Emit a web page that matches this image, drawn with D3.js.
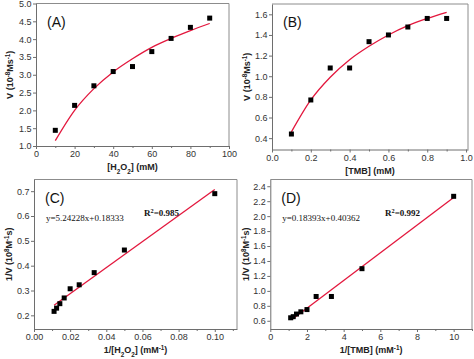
<!DOCTYPE html>
<html><head><meta charset="utf-8">
<script src="https://cdn.jsdelivr.net/npm/d3@7"></script>
<style>body{margin:0;background:#fff} svg{display:block}</style>
</head><body>
<svg id="c" width="474" height="359"></svg>
<script>
// ---- Panel A: V vs [H2O2]
const aS = [10,20,30,40,50,60,70,80,90];
const aV = [1.44,2.14,2.69,3.09,3.23,3.65,4.02,4.33,4.59];
const aFitV = [1.15,2.00,2.61,3.08,3.45,3.77,4.02,4.24,4.44];
const aXTicks = [0,20,40,60,80,100];
const aXMinor = [10,30,50,70,90];
const aYTicks = [1.0,1.5,2.0,2.5,3.0,3.5,4.0,4.5,5.0];
// ---- Panel B: V vs [TMB]
const bS = [0.1,0.2,0.3,0.4,0.5,0.6,0.7,0.8,0.9];
const bV = [0.44,0.77,1.08,1.08,1.335,1.40,1.477,1.56,1.56];
const bFitV = [0.46,0.77,0.99,1.16,1.29,1.40,1.49,1.56,1.62];
const bXTicks = [0.0,0.2,0.4,0.6,0.8,1.0];
const bXMinor = [0.1,0.3,0.5,0.7,0.9];
const bYTicks = [0.4,0.6,0.8,1.0,1.2,1.4,1.6];
// ---- Panel C: 1/V vs 1/[H2O2]
const cX = [0.1,0.05,0.0333,0.025,0.02,0.0167,0.0143,0.0125,0.0111];
const cY = [0.69,0.463,0.372,0.323,0.307,0.270,0.247,0.229,0.216];
const cFitX = [0.0111,0.1];
const cFitY = [0.241,0.707];
const cXTicks = [0,0.02,0.04,0.06,0.08,0.10];
const cXMinor = [0.01,0.03,0.05,0.07,0.09,0.11];
const cYTicks = [0.2,0.3,0.4,0.5,0.6,0.7];
// ---- Panel D: 1/V vs 1/[TMB]
const dX = [10,5,3.333,2.5,2,1.667,1.429,1.25,1.111];
const dY = [2.265,1.297,0.925,0.925,0.75,0.72,0.69,0.655,0.64];
const dFitX = [1.2,10];
const dFitY = [0.62,2.25];
const dXTicks = [0,2,4,6,8,10];
const dXMinor = [1,3,5,7,9,11];
const dYTicks = [0.6,0.8,1.0,1.2,1.4,1.6,1.8,2.0,2.2,2.4];

const svg = d3.select('#c');
const SANS = "'Liberation Sans', Arial, sans-serif";
const SERIF = "'Liberation Serif', 'Times New Roman', serif";
const RED = '#e3173d';

function rich(sel, parts) {
  parts.forEach(p => {
    const t = sel.append('tspan').text(p[0]);
    if (p[1] === 'sup') t.attr('baseline-shift', 'super').attr('font-size', '70%');
    if (p[1] === 'sub') t.attr('baseline-shift', 'sub').attr('font-size', '70%');
  });
}

function panel(cfg) {
  const g = svg.append('g');
  const x = d3.scaleLinear().domain(cfg.xd).range(cfg.xr);
  const y = d3.scaleLinear().domain(cfg.yd).range(cfg.yr);
  // frame top/right
  g.append('path')
    .attr('d', `M${cfg.xr[0]},${cfg.yr[1]}H${cfg.xr[1]}V${cfg.yr[0]}`)
    .attr('fill', 'none').attr('stroke', '#8c8c8c').attr('stroke-width', 1);
  // axes
  const xa = g.append('g').attr('transform', `translate(0,${cfg.yr[0]})`)
    .call(d3.axisBottom(x).tickValues(cfg.xt).tickSize(3).tickSizeOuter(0).tickPadding(2).tickFormat(cfg.xf));
  g.append('g').attr('transform', `translate(0,${cfg.yr[0]})`)
    .call(d3.axisBottom(x).tickValues(cfg.xm).tickSize(2).tickSizeOuter(0).tickFormat(''))
    .call(s => s.select('.domain').remove());
  const ya = g.append('g').attr('transform', `translate(${cfg.xr[0]},0)`)
    .call(d3.axisLeft(y).tickValues(cfg.yt).tickSize(3).tickSizeOuter(0).tickPadding(1.5).tickFormat(cfg.yf));
  g.selectAll('.domain').attr('stroke', '#6e6e6e');
  g.selectAll('.tick line').attr('stroke', '#6e6e6e');
  g.selectAll('.tick text').attr('font-family', SANS).attr('font-size', 9).attr('fill', '#333');
  // fit line
  const line = d3.line().x(d => x(d[0])).y(d => y(d[1])).curve(d3.curveMonotoneX);
  g.append('path').datum(d3.zip(cfg.fx, cfg.fy)).attr('d', line)
    .attr('fill', 'none').attr('stroke', RED).attr('stroke-width', 1.3);
  // points
  const ms = 5;
  g.selectAll('rect.pt').data(d3.zip(cfg.px, cfg.py)).join('rect')
    .attr('x', d => x(d[0]) - ms/2).attr('y', d => y(d[1]) - ms/2)
    .attr('width', ms).attr('height', ms).attr('fill', '#000');
  // panel letter
  g.append('text').attr('x', cfg.xr[0] + 11).attr('y', cfg.yr[1] + 23)
    .attr('font-family', SANS).attr('font-size', 14).attr('fill', '#111').text(cfg.tag);
  // axis titles
  const xt = g.append('text').attr('x', (cfg.xr[0] + cfg.xr[1]) / 2).attr('y', cfg.yr[0] + 24)
    .attr('text-anchor', 'middle').attr('font-family', SANS).attr('font-size', 9)
    .attr('font-weight', 'bold').attr('fill', '#222');
  rich(xt, cfg.xl);
  const yt = g.append('text')
    .attr('transform', `translate(${cfg.ylx},${(cfg.yr[0] + cfg.yr[1]) / 2}) rotate(-90)`)
    .attr('text-anchor', 'middle').attr('font-family', SANS).attr('font-size', 9)
    .attr('font-weight', 'bold').attr('fill', '#222');
  rich(yt, cfg.yl);
  if (cfg.eq) {
    g.append('text').attr('x', cfg.xr[0] + 12).attr('y', cfg.yr[1] + 41)
      .attr('font-family', SERIF).attr('font-size', 9).attr('fill', '#111').text(cfg.eq);
    const r = g.append('text').attr('x', cfg.rx).attr('y', cfg.yr[1] + 36)
      .attr('font-family', SERIF).attr('font-size', 9).attr('font-weight', 'bold').attr('fill', '#111');
    rich(r, [['R'], ['2', 'sup'], ['=' + cfg.r2]]);
  }
}

panel({
  tag: '(A)', xd: [0, 100], xr: [36, 229], yd: [1, 5], yr: [146, 3.5],
  xt: aXTicks, xm: aXMinor, yt: aYTicks, xf: d3.format('d'), yf: d3.format('.1f'),
  px: aS, py: aV, fx: aS, fy: aFitV, ylx: 13,
  xl: [['[H'], ['2', 'sub'], ['O'], ['2', 'sub'], ['] (mM)']],
  yl: [['V (10'], ['-8', 'sup'], ['Ms'], ['-1', 'sup'], [')']]
});
panel({
  tag: '(B)', xd: [0, 1.01], xr: [272, 468], yd: [0.29, 1.70], yr: [149.5, 4],
  xt: bXTicks, xm: bXMinor, yt: bYTicks, xf: d3.format('.1f'), yf: d3.format('.1f'),
  px: bS, py: bV, fx: bS, fy: bFitV, ylx: 250,
  xl: [['[TMB] (mM)']],
  yl: [['V (10'], ['-8', 'sup'], ['Ms'], ['-1', 'sup'], [')']]
});
panel({
  tag: '(C)', xd: [0, 0.1123], xr: [34, 237], yd: [0.145, 0.747], yr: [329, 179.5],
  xt: cXTicks, xm: cXMinor, yt: cYTicks, xf: d3.format('.2f'), yf: d3.format('.1f'),
  px: cX, py: cY, fx: cFitX, fy: cFitY, ylx: 12,
  xl: [['1/[H'], ['2', 'sub'], ['O'], ['2', 'sub'], ['] (mM'], ['-1', 'sup'], [')']],
  yl: [['1/V (10'], ['8', 'sup'], ['M'], ['-1', 'sup'], ['s)']],
  eq: 'y=5.24228x+0.18333', r2: '0.985', rx: 144
});
panel({
  tag: '(D)', xd: [0, 11], xr: [270.3, 472], yd: [0.49, 2.49], yr: [329, 179.5],
  xt: dXTicks, xm: dXMinor, yt: dYTicks, xf: d3.format('d'), yf: d3.format('.1f'),
  px: dX, py: dY, fx: dFitX, fy: dFitY, ylx: 249,
  xl: [['1/[TMB] (mM'], ['-1', 'sup'], [')']],
  yl: [['1/V (10'], ['8', 'sup'], ['M'], ['-1', 'sup'], ['s)']],
  eq: 'y=0.18393x+0.40362', r2: '0.992', rx: 385
});
</script>
</body></html>
